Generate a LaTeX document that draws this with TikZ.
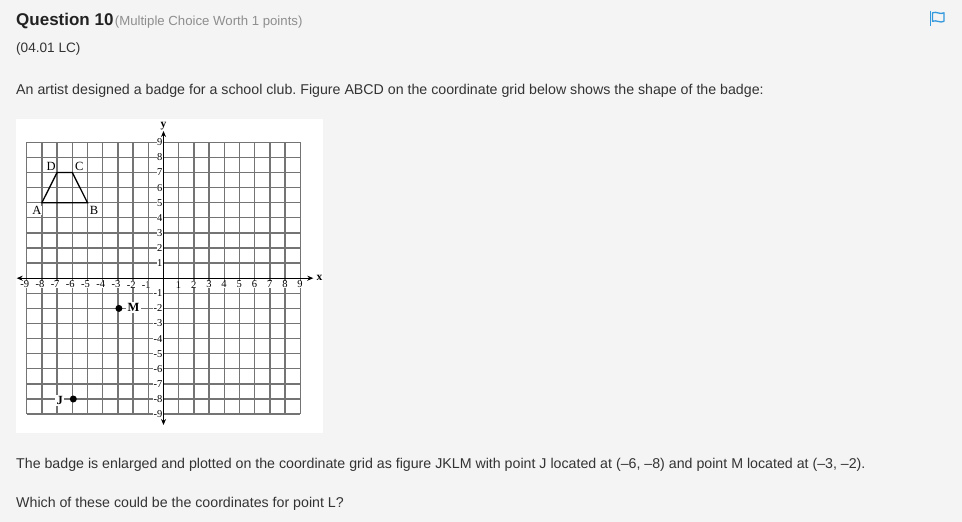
\documentclass[tikz,border=0pt]{standalone}
\usepackage{fontspec}
\setmainfont{Liberation Sans}
\newfontfamily\serifface{Liberation Serif}
\usetikzlibrary{arrows.meta}
\frenchspacing
\definecolor{pagebg}{HTML}{F4F4F4}
\definecolor{maintext}{HTML}{333333}
\definecolor{titletext}{HTML}{222222}
\definecolor{subtext}{HTML}{8E8E8E}
\definecolor{flagblue}{HTML}{3399DD}
\definecolor{gridgray}{HTML}{747474}
\tikzset{
  bodytext/.style={anchor=base west, inner sep=0pt, text=maintext, font=\fontsize{14.2}{16}\selectfont},
  gridline/.style={gridgray, line width=1.25pt},
  axisline/.style={black, line width=1.3pt, {Stealth[length=6pt,width=5pt]}-{Stealth[length=6pt,width=5pt]}},
  numlab/.style={fill=white, inner sep=0.4pt, font=\serifface\fontsize{10.5}{11}\selectfont},
  ptlab/.style={fill=white, inner sep=0.6pt, font=\serifface\fontsize{12.5}{12.5}\selectfont},
  boldlab/.style={fill=white, inner sep=1.5pt, font=\serifface\bfseries\fontsize{12.5}{12.5}\selectfont},
  dot/.style={circle, fill=black, inner sep=0pt, minimum size=7pt},
  shapeline/.style={black, line width=1.3pt, line join=miter}
}
\begin{document}
\begin{tikzpicture}[x=1pt, y=-1pt]
\useasboundingbox (0,0) rectangle (962,522);
\fill[pagebg] (0,0) rectangle (962,522);
% header
\node[anchor=base west, inner sep=0pt, text=titletext, font=\bfseries\fontsize{17}{19}\selectfont] (qtitle) at (16,25.7) {Question 10};
\node[anchor=base west, inner sep=0pt, text=subtext, font=\fontsize{13.2}{15}\selectfont] (qsub) at ([xshift=1pt]qtitle.base east) {(Multiple Choice Worth 1 points)};
\node[bodytext, font=\fontsize{13.6}{15}\selectfont] (code) at (16,52.5) {(04.01 LC)};
\node[bodytext] (intro) at (16,94) {An artist designed a badge for a school club. Figure ABCD on the coordinate grid below shows the shape of the badge:};
\node[bodytext] (badge) at (16,468) {The badge is enlarged and plotted on the coordinate grid as figure JKLM with point J located at (–6, –8) and point M located at (–3, –2).};
\node[bodytext] (which) at (16,507) {Which of these could be the coordinates for point L?};
% flag icon
\draw[flagblue, line width=1.8pt] (930.5,10.5) -- (930.5,26);
\draw[flagblue, line width=1.3pt, line join=round] (932.5,12.8) .. controls (936.5,11) and (940,15) .. (944,12.8) -- (944,21.3) .. controls (940,23.5) and (936.5,19.5) .. (932.5,21.3) -- cycle;
% graph panel
\fill[white] (16,119) rectangle (323,433);
\begin{scope}[shift={(163.5,278.2)}, x=15.2pt, y=15.1pt]
  \foreach \i in {-9,...,9} {
    \draw[gridline] (\i,-9) -- (\i,9);
    \draw[gridline] (-9,\i) -- (9,\i);
  }
  \foreach \i in {-9,...,-1,1,2,...,9} {
    \node[numlab, anchor=east] at ([xshift=3pt]\i,-0.42) {\i};
    \node[numlab, anchor=east] at ([xshift=-0.5pt]0,\i) {\i};
  }
  \coordinate (xl) at ([xshift=-146.8pt]0,0);
  \coordinate (xr) at ([xshift=149.8pt]0,0);
  \coordinate (yt) at ([yshift=147.2pt]0,0);
  \coordinate (yb) at ([yshift=-146.8pt]0,0);
  \draw[axisline] (xl) -- (xr);
  \draw[axisline] (yb) -- (yt);
  \node[inner sep=0pt, font=\serifface\bfseries\fontsize{11.5}{11.5}\selectfont, anchor=west] (xlab) at ([xshift=3pt]xr) {x};
  \node[inner sep=0pt, font=\serifface\bfseries\fontsize{11.5}{11.5}\selectfont, anchor=south] (ylab) at ([yshift=1pt]yt) {y};
  % badge ABCD
  \coordinate (A) at (-8,5);
  \coordinate (B) at (-5,5);
  \coordinate (C) at (-6,7);
  \coordinate (D) at (-7,7);
  \draw[shapeline] (A) -- (B) -- (C) -- (D) -- cycle;
  \node[ptlab] (lA) at ([xshift=-5pt,yshift=-7.7pt]A) {A};
  \node[ptlab] (lB) at ([xshift=6.5pt,yshift=-7.7pt]B) {B};
  \node[ptlab] (lC) at ([xshift=7pt,yshift=5.6pt]C) {C};
  \node[ptlab] (lD) at ([xshift=-6pt,yshift=5.6pt]D) {D};
  % points
  \node[dot] (M) at ([xshift=1pt]-3,-2) {};
  \node[dot] (J) at ([xshift=1pt]-6,-8) {};
  \node[boldlab] (lM) at ([xshift=14.5pt,yshift=0.5pt]M) {M};
  \node[boldlab] (lJ) at ([xshift=-13.5pt,yshift=-1.5pt]J) {J};
\end{scope}
\end{tikzpicture}
\end{document}
